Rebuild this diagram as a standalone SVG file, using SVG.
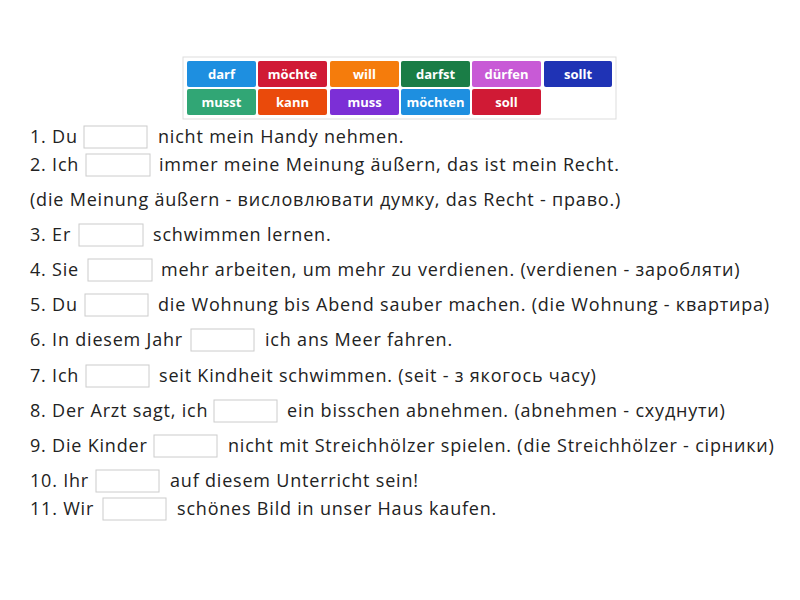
<svg xmlns="http://www.w3.org/2000/svg" width="800" height="600" viewBox="0 0 800 600">
<style>
.t{font-family:"Open Sans","Noto Sans",sans-serif;font-size:18px;letter-spacing:0.8px;fill:#222}
.w{font-family:"Open Sans","Noto Sans",sans-serif;font-size:13px;font-weight:bold;fill:#fff;text-anchor:middle}
.b{fill:#fff;stroke:#ccc;stroke-width:1}
</style>
<rect width="800" height="600" fill="#fff"/>
<g id="bank">
<rect x="183" y="57" width="433" height="62" fill="#fff" stroke="#ddd"/>
<rect x="187" y="61" width="69" height="26" rx="2" fill="#1e8fe0"/><text class="w" x="221.5" y="79">darf</text>
<rect x="258" y="61" width="69" height="26" rx="2" fill="#d01a35"/><text class="w" x="292.5" y="79">möchte</text>
<rect x="330" y="61" width="69" height="26" rx="2" fill="#f57c0c"/><text class="w" x="364.5" y="79">will</text>
<rect x="401" y="61" width="69" height="26" rx="2" fill="#1a7d46"/><text class="w" x="435.5" y="79">darfst</text>
<rect x="472" y="61" width="69" height="26" rx="2" fill="#c85ad6"/><text class="w" x="506.5" y="79">dürfen</text>
<rect x="544" y="61" width="68" height="26" rx="2" fill="#1f33b5"/><text class="w" x="578" y="79">sollt</text>
<rect x="187" y="89" width="69" height="26" rx="2" fill="#31a675"/><text class="w" x="221.5" y="107">musst</text>
<rect x="258" y="89" width="69" height="26" rx="2" fill="#ea4a0b"/><text class="w" x="292.5" y="107">kann</text>
<rect x="330" y="89" width="69" height="26" rx="2" fill="#7c2fd6"/><text class="w" x="364.5" y="107">muss</text>
<rect x="401" y="89" width="69" height="26" rx="2" fill="#1e8fe0"/><text class="w" x="435.5" y="107">möchten</text>
<rect x="472" y="89" width="69" height="26" rx="2" fill="#d01a35"/><text class="w" x="506.5" y="107">soll</text>
</g>
<g id="sentences">
<text class="t" x="30" y="143">1. Du</text><rect class="b" x="84" y="126" width="63" height="22"/><text class="t" x="158" y="143">nicht mein Handy nehmen.</text>
<text class="t" x="30" y="171">2. Ich</text><rect class="b" x="86" y="154" width="64" height="22"/><text class="t" x="159" y="171">immer meine Meinung äußern, das ist mein Recht.</text>
<text class="t" x="30" y="206">(die Meinung äußern - висловлювати думку, das Recht - право.)</text>
<text class="t" x="30" y="241">3. Er</text><rect class="b" x="79" y="224" width="64" height="22"/><text class="t" x="153" y="241">schwimmen lernen.</text>
<text class="t" x="30" y="276">4. Sie</text><rect class="b" x="88" y="259" width="64" height="22"/><text class="t" x="161" y="276">mehr arbeiten, um mehr zu verdienen. (verdienen - заробляти)</text>
<text class="t" x="30" y="311">5. Du</text><rect class="b" x="85" y="294" width="63" height="22"/><text class="t" x="158" y="311">die Wohnung bis Abend sauber machen. (die Wohnung - квартира)</text>
<text class="t" x="30" y="346">6. In diesem Jahr</text><rect class="b" x="191" y="329" width="63" height="22"/><text class="t" x="265" y="346">ich ans Meer fahren.</text>
<text class="t" x="30" y="382">7. Ich</text><rect class="b" x="86" y="365" width="63" height="22"/><text class="t" x="159" y="382">seit Kindheit schwimmen. (seit - з якогось часу)</text>
<text class="t" x="30" y="417">8. Der Arzt sagt, ich</text><rect class="b" x="214" y="400" width="63" height="22"/><text class="t" x="287" y="417">ein bisschen abnehmen. (abnehmen - схуднути)</text>
<text class="t" x="30" y="452">9. Die Kinder</text><rect class="b" x="154" y="435" width="63" height="22"/><text class="t" x="228" y="452">nicht mit Streichhölzer spielen. (die Streichhölzer - сірники)</text>
<text class="t" x="30" y="487">10. Ihr</text><rect class="b" x="96" y="470" width="63" height="22"/><text class="t" x="170" y="487">auf diesem Unterricht sein!</text>
<text class="t" x="30" y="515">11. Wir</text><rect class="b" x="103" y="498" width="63" height="22"/><text class="t" x="177" y="515">schönes Bild in unser Haus kaufen.</text>
</g>
</svg>
